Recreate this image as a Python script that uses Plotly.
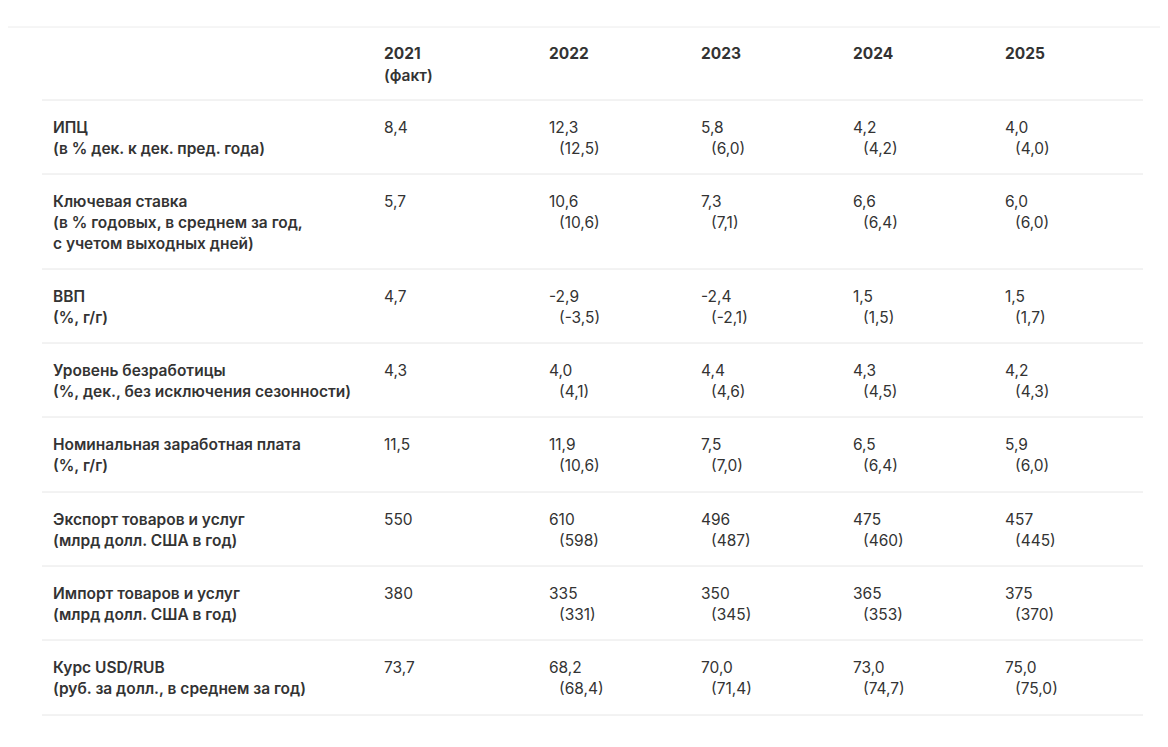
import plotly.graph_objects as go

years = ["2021", "2022", "2023", "2024", "2025"]
labels = [
    ["ИПЦ", "(в % дек. к дек. пред. года)"],
    ["Ключевая ставка", "(в % годовых, в среднем за год,", "с учетом выходных дней)"],
    ["ВВП", "(%, г/г)"],
    ["Уровень безработицы", "(%, дек., без исключения сезонности)"],
    ["Номинальная заработная плата", "(%, г/г)"],
    ["Экспорт товаров и услуг", "(млрд долл. США в год)"],
    ["Импорт товаров и услуг", "(млрд долл. США в год)"],
    ["Курс USD/RUB", "(руб. за долл., в среднем за год)"],
]
fact_2021 = ["8,4", "5,7", "4,7", "4,3", "11,5", "550", "380", "73,7"]
forecast = [
    ["12,3", "5,8", "4,2", "4,0"],
    ["10,6", "7,3", "6,6", "6,0"],
    ["-2,9", "-2,4", "1,5", "1,5"],
    ["4,0", "4,4", "4,3", "4,2"],
    ["11,9", "7,5", "6,5", "5,9"],
    ["610", "496", "475", "457"],
    ["335", "350", "365", "375"],
    ["68,2", "70,0", "73,0", "75,0"],
]
prev_forecast = [
    ["12,5", "6,0", "4,2", "4,0"],
    ["10,6", "7,1", "6,4", "6,0"],
    ["-3,5", "-2,1", "1,5", "1,7"],
    ["4,1", "4,6", "4,5", "4,3"],
    ["10,6", "7,0", "6,4", "6,0"],
    ["598", "487", "460", "445"],
    ["331", "345", "353", "370"],
    ["68,4", "71,4", "74,7", "75,0"],
]

row_tops = [127, 201, 296, 370, 444, 519, 593, 667]
row_lines = [100, 174, 269, 343, 417, 492, 566, 640, 715]
col_x = [382, 547, 699, 851, 1003]
label_x = 51
lh = 21
C = "#333333"
FONT = "Inter, Roboto, sans-serif"

fig = go.Figure()
ann = []
def add(x, y, t, size=15.5, weight=400, color=C):
    ann.append(dict(x=x, y=y, text=t, xref="x", yref="y", showarrow=False,
                    xanchor="left", yanchor="middle",
                    font=dict(family=FONT, size=size, color=color, weight=weight)))

for i, yr in enumerate(years):
    add(col_x[i], 53, yr, weight=700)
add(col_x[0], 75, "(факт)", weight=600)

for r, lab in enumerate(labels):
    y0 = row_tops[r]
    for k, line in enumerate(lab):
        add(label_x, y0 + k * lh, line, weight=600)
    add(col_x[0], y0, fact_2021[r])
    for j in range(4):
        add(col_x[j + 1], y0, forecast[r][j])
        add(col_x[j + 1] + 10, y0 + lh, "(" + prev_forecast[r][j] + ")")

shapes = [dict(type="line", x0=0, x1=1168, y0=27, y1=27, xref="x", yref="y",
               line=dict(color="#ececec", width=1))]
for y in row_lines:
    shapes.append(dict(type="line", x0=42, x1=1143, y0=y, y1=y, xref="x", yref="y",
                       line=dict(color="#e6e6e6", width=1)))

fig.update_layout(width=1168, height=747, margin=dict(l=0, r=0, t=0, b=0),
                  paper_bgcolor="white", plot_bgcolor="white",
                  xaxis=dict(range=[8, 1176], visible=False, fixedrange=True),
                  yaxis=dict(range=[755, 8], visible=False, fixedrange=True),
                  annotations=ann, shapes=shapes, showlegend=False)
fig.write_html("out.html")
